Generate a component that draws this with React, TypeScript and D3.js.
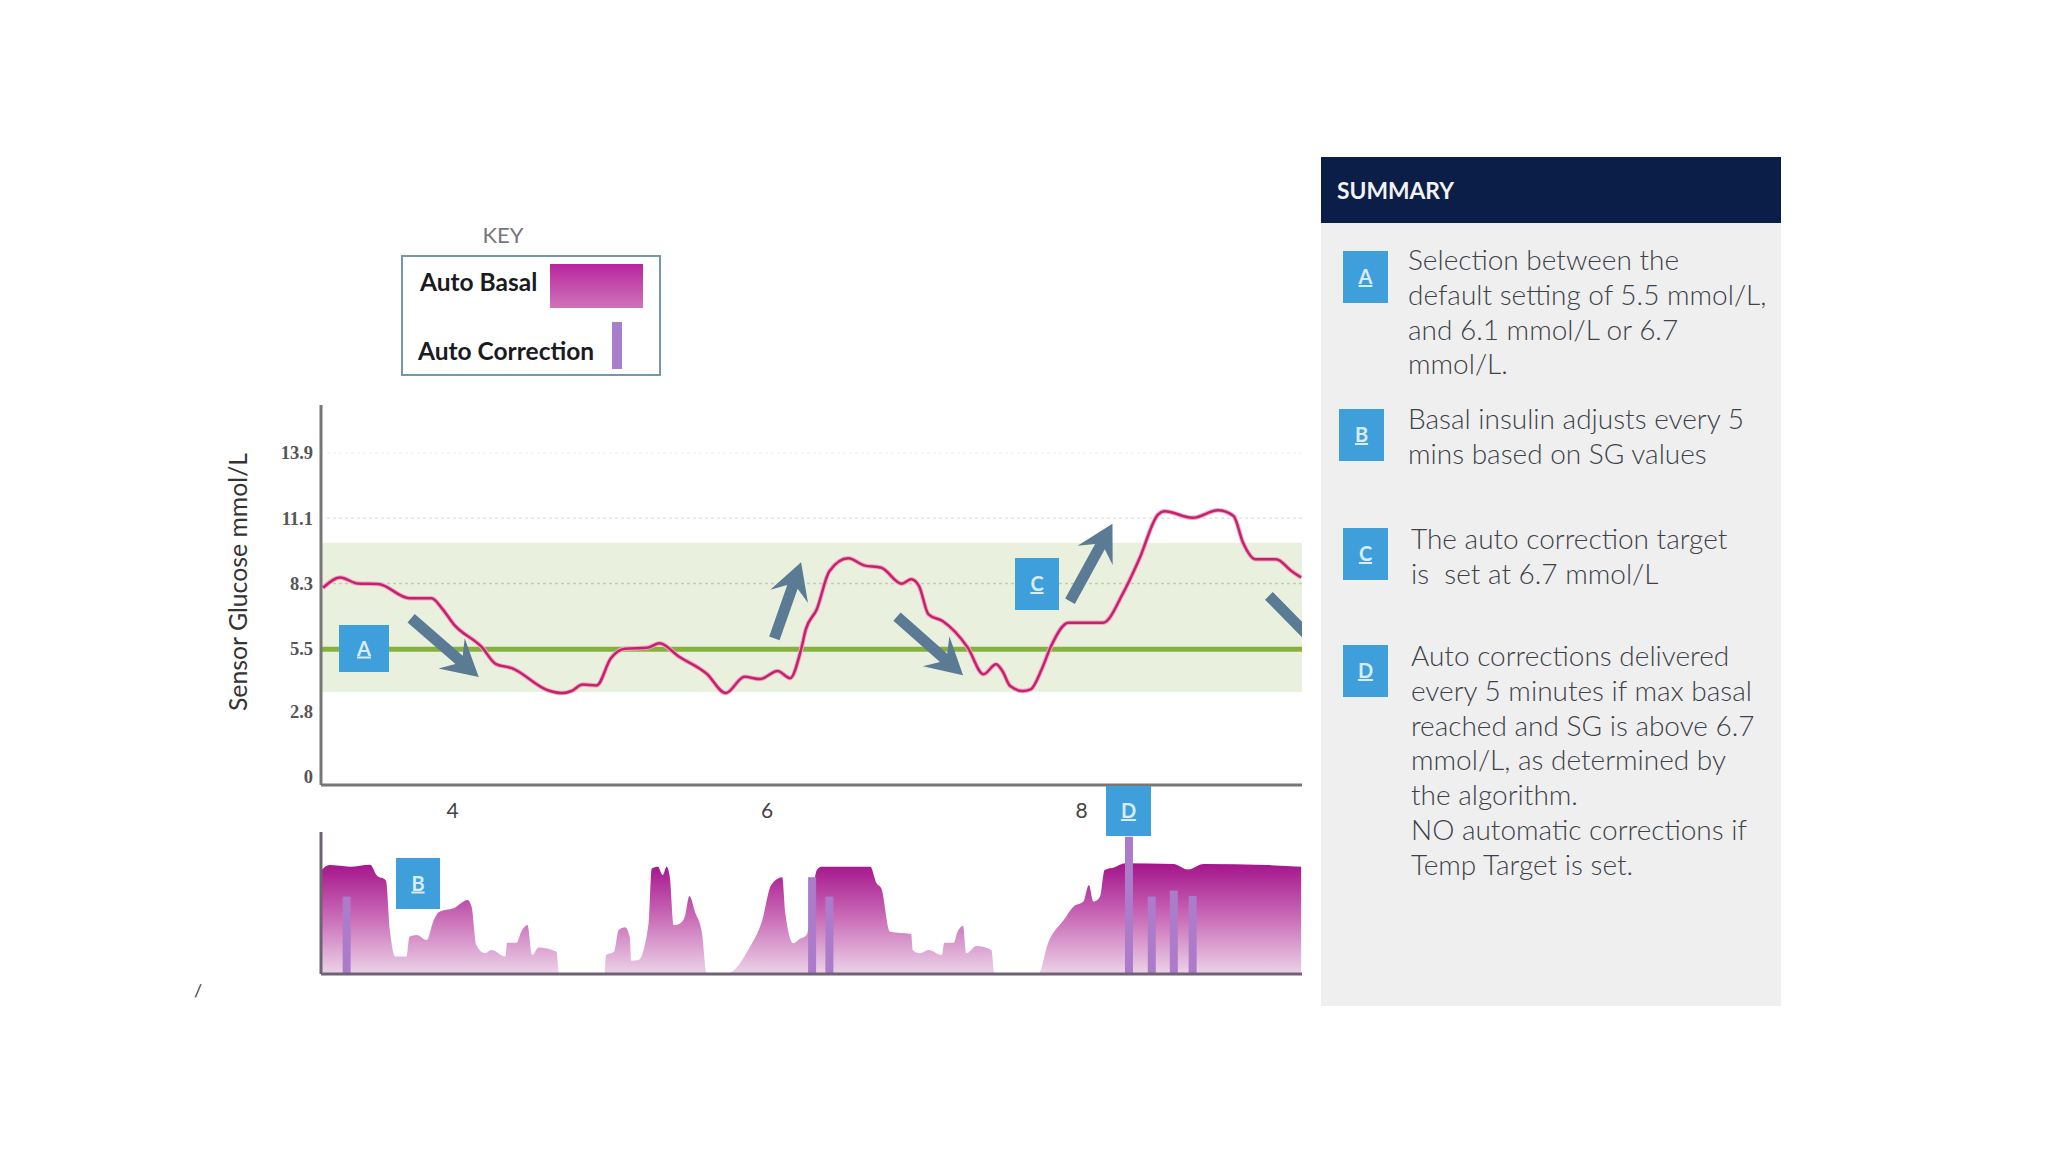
import * as d3 from "d3";
import { useEffect, useRef } from "react";

const W = 2048;
const H = 1152;

// sensor glucose trace, mmol/L against hour of day
const sgHours = [3.18, 3.29, 3.4, 3.53, 3.73, 3.87, 3.94, 4.01, 4.19, 4.28, 4.38, 4.61, 4.7, 4.76, 4.83, 4.92, 5.01, 5.1, 5.24, 5.32, 5.44, 5.62, 5.74, 5.86, 5.96, 6.07, 6.15, 6.22, 6.25, 6.32, 6.4, 6.52, 6.62, 6.73, 6.86, 6.92, 6.97, 7.03, 7.12, 7.28, 7.38, 7.46, 7.5, 7.55, 7.63, 7.68, 7.75, 7.81, 7.92, 8.14, 8.27, 8.37, 8.49, 8.53, 8.71, 8.87, 8.97, 9.03, 9.11, 9.24, 9.34, 9.4];
const sgValues = [8.12, 8.56, 8.3, 8.28, 7.67, 7.67, 7.2, 6.56, 5.57, 4.84, 4.67, 3.72, 3.6, 3.69, 3.97, 3.93, 5.09, 5.5, 5.54, 5.74, 5.18, 4.43, 3.6, 4.3, 4.2, 4.55, 4.24, 5.48, 6.33, 7.2, 8.83, 9.38, 9.08, 8.98, 8.29, 8.48, 8.19, 6.98, 6.69, 5.55, 4.41, 4.84, 4.55, 3.9, 3.69, 3.76, 4.62, 5.62, 6.62, 6.62, 7.92, 9.34, 11.26, 11.4, 11.12, 11.44, 11.2, 10.06, 9.34, 9.34, 8.83, 8.56];

// auto basal, relative to the usual max rate
const basalHours = [3.17, 3.22, 3.35, 3.48, 3.52, 3.58, 3.605, 3.64, 3.71, 3.73, 3.775, 3.84, 3.88, 3.92, 4.01, 4.1, 4.125, 4.155, 4.21, 4.25, 4.34, 4.35, 4.41, 4.44, 4.48, 4.51, 4.55, 4.665, 4.68, 4.97, 4.98, 5.03, 5.06, 5.1, 5.13, 5.14, 5.185, 5.25, 5.27, 5.31, 5.34, 5.365, 5.385, 5.41, 5.45, 5.48, 5.51, 5.545, 5.59, 5.62, 5.75, 5.895, 5.97, 6.03, 6.1, 6.12, 6.17, 6.213, 6.255, 6.32, 6.35, 6.66, 6.7, 6.73, 6.785, 6.92, 6.93, 6.975, 7.03, 7.115, 7.13, 7.19, 7.215, 7.25, 7.27, 7.335, 7.43, 7.45, 7.73, 7.79, 7.89, 7.95, 8.015, 8.05, 8.08, 8.12, 8.15, 8.215, 8.28, 8.587, 8.68, 8.78, 9.18, 9.4];
const basalValues = [0.945, 0.99, 0.976, 0.994, 0.9, 0.85, 0.4, 0.158, 0.158, 0.34, 0.355, 0.31, 0.476, 0.567, 0.597, 0.673, 0.61, 0.264, 0.188, 0.218, 0.158, 0.285, 0.285, 0.385, 0.445, 0.173, 0.242, 0.203, 0.006, 0.006, 0.173, 0.203, 0.4, 0.424, 0.34, 0.12, 0.127, 0.46, 0.96, 0.976, 0.9, 0.976, 0.885, 0.445, 0.46, 0.52, 0.71, 0.567, 0.37, 0.006, 0.006, 0.248, 0.476, 0.81, 0.88, 0.55, 0.28, 0.32, 0.355, 0.945, 0.976, 0.976, 0.824, 0.779, 0.385, 0.364, 0.218, 0.188, 0.218, 0.173, 0.285, 0.285, 0.385, 0.436, 0.188, 0.255, 0.218, 0.006, 0.006, 0.28, 0.49, 0.61, 0.658, 0.81, 0.658, 0.7, 0.945, 0.97, 1.006, 1, 0.95, 1, 0.99, 0.976];

// auto corrections
const correctionHours = [3.33, 6.29, 6.4, 8.305, 8.45, 8.59, 8.71];
const correctionValues = [0.703, 0.88, 0.703, 1.248, 0.703, 0.758, 0.709];

const yTicks = [0, 2.8, 5.5, 8.3, 11.1, 13.9];
const xTicks = [4, 6, 8];
const targetRange = [3.65, 10.05];
const targetLine = 5.5;

// arrows: hour, mmol/L at tail and tip
const arrowTails = [[3.74, 6.81], [6.05, 5.95], [6.83, 6.88], [7.93, 7.54], [9.195, 7.77]];
const arrowTips = [[4.17, 4.29], [6.22, 9.21], [7.25, 4.37], [8.2, 10.86], [9.73, 4.1]];

const summaryLabels = ["A", "B", "C", "D"];
const summaryTexts = [
  ["Selection between the", "default setting of 5.5 mmol/L,", "and 6.1 mmol/L or 6.7", "mmol/L."],
  ["Basal insulin adjusts every 5", "mins based on SG values"],
  ["The auto correction target", "is  set at 6.7 mmol/L"],
  ["Auto corrections delivered", "every 5 minutes if max basal", "reached and SG is above 6.7", "mmol/L, as determined by", "the algorithm.", "NO automatic corrections if", "Temp Target is set."],
];

const SANS = "Lato, 'Noto Sans', sans-serif";
const BLUE = "#3f9fdb";

export default function App() {
  const svgRef = useRef<SVGSVGElement | null>(null);

  useEffect(() => {
    if (!svgRef.current) return;
    const svg = d3.select(svgRef.current);
    svg.selectAll("*").remove();

    const x = d3.scaleLinear().domain([4, 8]).range([452, 1081]);
    const y = d3.scaleLinear().domain([0, 13.9]).range([777, 453]);
    const yB = d3.scaleLinear().domain([0, 1]).range([974, 864]);
    const left = 321;
    const right = 1302;
    const baseline = 785;

    const defs = svg.append("defs");
    const basalGrad = defs
      .append("linearGradient")
      .attr("id", "basalGrad")
      .attr("gradientUnits", "userSpaceOnUse")
      .attr("x1", 0)
      .attr("x2", 0)
      .attr("y1", yB(1))
      .attr("y2", yB(0));
    basalGrad.append("stop").attr("offset", 0).attr("stop-color", "#a5158c");
    basalGrad.append("stop").attr("offset", 0.45).attr("stop-color", "#c765b4");
    basalGrad.append("stop").attr("offset", 1).attr("stop-color", "#ecd3e8");

    const keyGrad = defs
      .append("linearGradient")
      .attr("id", "keyGrad")
      .attr("x1", 0)
      .attr("x2", 0)
      .attr("y1", 0)
      .attr("y2", 1);
    keyGrad.append("stop").attr("offset", 0).attr("stop-color", "#b9259f");
    keyGrad.append("stop").attr("offset", 1).attr("stop-color", "#cf74b8");

    defs
      .append("clipPath")
      .attr("id", "plotClip")
      .append("rect")
      .attr("x", left)
      .attr("y", 400)
      .attr("width", right - left)
      .attr("height", 390);

    // target band and grid
    svg
      .append("rect")
      .attr("x", left)
      .attr("y", y(targetRange[1]))
      .attr("width", right - left)
      .attr("height", y(targetRange[0]) - y(targetRange[1]))
      .attr("fill", "#e9f1de");

    const gridColor: Record<number, string> = { 8.3: "#c3cdb4", 11.1: "#e6e6e6", 13.9: "#f3f3f3" };
    [8.3, 11.1, 13.9].forEach((t) => {
      svg
        .append("line")
        .attr("x1", left + 6)
        .attr("x2", right)
        .attr("y1", y(t))
        .attr("y2", y(t))
        .attr("stroke", gridColor[t])
        .attr("stroke-width", 1.5)
        .attr("stroke-dasharray", "3 3");
    });

    svg
      .append("line")
      .attr("x1", left)
      .attr("x2", right)
      .attr("y1", y(targetLine) + 0.5)
      .attr("y2", y(targetLine) + 0.5)
      .attr("stroke", "#86b03f")
      .attr("stroke-width", 5);

    // glucose trace
    const sgLine = d3
      .line<number>()
      .x((_, i) => x(sgHours[i]))
      .y((d) => y(d))
      .curve(d3.curveMonotoneX);
    svg
      .append("path")
      .attr("d", sgLine(sgValues))
      .attr("fill", "none")
      .attr("stroke", "#f3a6c6")
      .attr("stroke-width", 4.5);
    svg
      .append("path")
      .attr("d", sgLine(sgValues))
      .attr("fill", "none")
      .attr("stroke", "#c2246c")
      .attr("stroke-width", 2.5);

    // arrows
    const arrows = svg.append("g").attr("clip-path", "url(#plotClip)");
    arrowTails.forEach((tail, i) => {
      const tip = arrowTips[i];
      const x0 = x(tail[0]);
      const y0 = y(tail[1]);
      const x1 = x(tip[0]);
      const y1 = y(tip[1]);
      const len = Math.hypot(x1 - x0, y1 - y0);
      const ux = (x1 - x0) / len;
      const uy = (y1 - y0) / len;
      const nx = -uy;
      const ny = ux;
      const shaft = 5.5;
      const p = d3.path();
      const at = (back: number, off: number): [number, number] => [
        x1 - ux * back + nx * off,
        y1 - uy * back + ny * off,
      ];
      p.moveTo(x0 + nx * shaft, y0 + ny * shaft);
      p.lineTo(...at(26, shaft));
      p.lineTo(...at(36, 20));
      p.lineTo(x1, y1);
      p.lineTo(...at(36, -20));
      p.lineTo(...at(26, -shaft));
      p.lineTo(x0 - nx * shaft, y0 - ny * shaft);
      p.closePath();
      arrows.append("path").attr("d", p.toString()).attr("fill", "#5b7a94");
    });

    // main axes
    const yAxis = svg
      .append("g")
      .attr("transform", `translate(${left},0)`)
      .call(d3.axisLeft(y).tickValues(yTicks).tickSize(0).tickPadding(8).tickFormat((d) => String(d)));
    yAxis.select(".domain").remove();
    yAxis
      .selectAll("text")
      .attr("font-family", "'Liberation Serif', serif")
      .attr("font-weight", 700)
      .attr("font-size", 18.5)
      .attr("fill", "#555");

    svg
      .append("line")
      .attr("x1", left)
      .attr("x2", left)
      .attr("y1", 405)
      .attr("y2", baseline)
      .attr("stroke", "#777")
      .attr("stroke-width", 3);
    svg
      .append("line")
      .attr("x1", left)
      .attr("x2", right)
      .attr("y1", baseline)
      .attr("y2", baseline)
      .attr("stroke", "#777")
      .attr("stroke-width", 3);

    const xAxis = svg
      .append("g")
      .attr("transform", `translate(0,${baseline})`)
      .call(d3.axisBottom(x).tickValues(xTicks).tickSize(0).tickPadding(18).tickFormat((d) => String(d)));
    xAxis.select(".domain").remove();
    xAxis
      .selectAll("text")
      .attr("font-family", SANS)
      .attr("font-size", 21)
      .attr("fill", "#444");

    svg
      .append("text")
      .attr("transform", "translate(247,582) rotate(-90)")
      .attr("text-anchor", "middle")
      .attr("font-family", SANS)
      .attr("font-size", 24.8)
      .attr("fill", "#333")
      .text("Sensor Glucose mmol/L");

    // basal area
    const basalArea = d3
      .area<number>()
      .x((_, i) => x(basalHours[i]))
      .y0(yB(0))
      .y1((d) => yB(d))
      .curve(d3.curveMonotoneX);
    svg
      .append("path")
      .attr("d", basalArea(basalValues))
      .attr("fill", "url(#basalGrad)");

    // corrections
    svg
      .selectAll(".correction")
      .data(correctionValues)
      .join("rect")
      .attr("x", (_, i) => x(correctionHours[i]) - 4)
      .attr("y", (d) => yB(d))
      .attr("width", 8)
      .attr("height", (d) => yB(0) - yB(d))
      .attr("fill", "#ac7ccb");

    svg
      .append("line")
      .attr("x1", left)
      .attr("x2", left)
      .attr("y1", 832)
      .attr("y2", yB(0))
      .attr("stroke", "#6f6274")
      .attr("stroke-width", 3);
    svg
      .append("line")
      .attr("x1", left)
      .attr("x2", right)
      .attr("y1", yB(0))
      .attr("y2", yB(0))
      .attr("stroke", "#6f6274")
      .attr("stroke-width", 3);

    const badge = (bx: number, by: number, bw: number, bh: number, label: string) => {
      svg
        .append("rect")
        .attr("x", bx)
        .attr("y", by)
        .attr("width", bw)
        .attr("height", bh)
        .attr("fill", BLUE);
      svg
        .append("text")
        .attr("x", bx + bw / 2)
        .attr("y", by + bh / 2 + 7)
        .attr("text-anchor", "middle")
        .attr("font-family", SANS)
        .attr("font-weight", 700)
        .attr("font-size", 20)
        .attr("text-decoration", "underline")
        .attr("fill", "#d8ecf9")
        .text(label);
    };
    badge(339, 625, 50, 47, "A");
    badge(396, 858, 44, 51, "B");
    badge(1015, 558, 44, 52, "C");
    badge(1106, 786, 45, 50, "D");

    // key
    svg
      .append("text")
      .attr("x", 503)
      .attr("y", 243)
      .attr("text-anchor", "middle")
      .attr("font-family", SANS)
      .attr("font-size", 22)
      .attr("fill", "#777")
      .text("KEY");
    svg
      .append("rect")
      .attr("x", 402)
      .attr("y", 256)
      .attr("width", 258)
      .attr("height", 119)
      .attr("fill", "#fff")
      .attr("stroke", "#7397ab")
      .attr("stroke-width", 2);
    svg
      .append("text")
      .attr("x", 420)
      .attr("y", 291)
      .attr("font-family", SANS)
      .attr("font-weight", 700)
      .attr("font-size", 24.5)
      .attr("fill", "#1b1b1f")
      .text("Auto Basal");
    svg
      .append("rect")
      .attr("x", 550)
      .attr("y", 264)
      .attr("width", 93)
      .attr("height", 44)
      .attr("fill", "url(#keyGrad)");
    svg
      .append("text")
      .attr("x", 418)
      .attr("y", 360)
      .attr("font-family", SANS)
      .attr("font-weight", 700)
      .attr("font-size", 24.5)
      .attr("fill", "#1b1b1f")
      .text("Auto Correction");
    svg
      .append("rect")
      .attr("x", 612)
      .attr("y", 322)
      .attr("width", 10)
      .attr("height", 47)
      .attr("fill", "#a97fcb");

    // stray mark bottom left of the slide
    svg
      .append("text")
      .attr("x", 194)
      .attr("y", 997)
      .attr("font-family", SANS)
      .attr("font-size", 18)
      .attr("fill", "#444")
      .text("/");

    // summary panel
    svg
      .append("rect")
      .attr("x", 1321)
      .attr("y", 157)
      .attr("width", 460)
      .attr("height", 849)
      .attr("fill", "#efeff0");
    svg
      .append("rect")
      .attr("x", 1321)
      .attr("y", 157)
      .attr("width", 460)
      .attr("height", 66)
      .attr("fill", "#0b1e48");
    svg
      .append("text")
      .attr("x", 1337)
      .attr("y", 199)
      .attr("font-family", SANS)
      .attr("font-weight", 700)
      .attr("font-size", 22.8)
      .attr("fill", "#f2f2f2")
      .text("SUMMARY");

    const badgeX = [1343, 1339, 1343, 1343];
    const badgeY = [251, 409, 528, 645];
    const textX = [1408, 1408, 1411, 1411];
    const textY = [270, 429, 549, 666];
    summaryLabels.forEach((label, i) => {
      badge(badgeX[i], badgeY[i], 45, 52, label);
      summaryTexts[i].forEach((lineText, j) => {
        svg
          .append("text")
          .attr("x", textX[i])
          .attr("y", textY[i] + j * 34.8)
          .attr("font-family", SANS)
          .attr("font-weight", 300)
          .attr("font-size", 28)
          .attr("fill", "#3d4248")
          .style("white-space", "pre")
          .text(lineText);
      });
    });
  }, []);

  return (
    <svg
      ref={svgRef}
      width={W}
      height={H}
      viewBox={`0 0 ${W} ${H}`}
      style={{ position: "absolute", left: 0, top: 0, background: "#fff" }}
    />
  );
}
